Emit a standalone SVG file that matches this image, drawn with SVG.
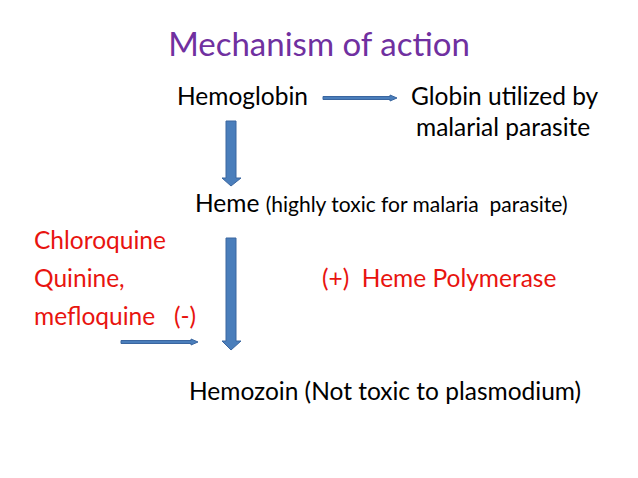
<svg xmlns="http://www.w3.org/2000/svg" width="638" height="478" viewBox="0 0 638 478" xml:space="preserve">
<style>
text{font-family:Lato,"Open Sans",sans-serif;font-size:24.5px;fill:#000;white-space:pre}
.r{fill:#e8140f}
.ba{fill:#4a7ebb;stroke:#3a66a0;stroke-width:1}
</style>
<rect width="638" height="478" fill="#fff"/>
<text x="319" y="56" text-anchor="middle" style="font-size:33px;fill:#7030a0">Mechanism of action</text>
<g id="hemoglobin"><text x="177" y="105">Hemoglobin</text></g>
<g id="globin"><text x="411" y="105">Globin utilized by</text><text x="416" y="136">malarial parasite</text></g>
<g id="heme"><text x="195" y="212">Heme <tspan style="font-size:21px">(highly toxic for malaria  parasite)</tspan></text></g>
<g id="drugs"><text class="r" x="34" y="249">Chloroquine</text><text class="r" x="34" y="287">Quinine,</text><text class="r" x="34" y="325">mefloquine   (-)</text></g>
<g id="polymerase"><text class="r" x="322" y="287">(+)  Heme Polymerase</text></g>
<g id="hemozoin"><text x="189" y="400">Hemozoin (Not toxic to plasmodium)</text></g>
<g id="connectors">
<path class="ba" d="M226,121H236V178H241L231,186L222,178H226Z"/>
<path class="ba" d="M226,238H236V341H241L231,350L222,341H226Z"/>
<path class="ba" d="M323,96.5H390V95L397,98L390,101V99.5H323Z"/>
<path class="ba" d="M121,340.5H191V339L198,342L191,345V343.5H121Z"/>
</g>
</svg>
